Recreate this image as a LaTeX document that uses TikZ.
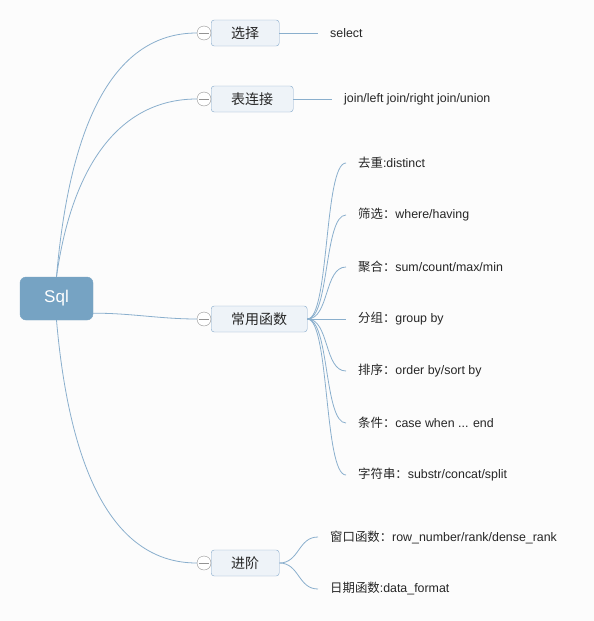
\documentclass[tikz,border=0pt]{standalone}
\usepackage{fontspec}
\setmainfont{Liberation Sans}
\newfontfamily\cjk{Noto Sans CJK SC}
\usepackage{tikz}
\usetikzlibrary{positioning,calc}
\usepackage{xcolor}
\definecolor{rootblue}{HTML}{76A3C3}
\definecolor{linkblue}{HTML}{8AAFCD}
\definecolor{topicfill}{HTML}{EEF3F8}
\definecolor{topicline}{HTML}{86AACB}
\definecolor{bgpaper}{HTML}{FCFCFC}

\begin{document}
\begin{tikzpicture}[x=1pt, y=-1pt,
        root/.style={draw=rootblue, fill=rootblue, rounded corners=6pt, minimum width=73pt,
                     minimum height=43pt, text=white, font=\fontsize{17}{20}\selectfont},
        topic/.style={draw=topicline, fill=topicfill, rounded corners=3pt, anchor=west,
                      minimum height=26pt, inner xsep=20pt, text=black!85,
                      font=\cjk\fontsize{14}{16}\selectfont},
        fold/.style={circle, draw=gray!85, fill=white, minimum size=14pt, inner sep=0pt,
                     path picture={\draw[gray!85] ([xshift=-5pt]path picture bounding box.center)
                                   -- ([xshift=5pt]path picture bounding box.center);}},
        leaf/.style={anchor=west, inner xsep=12pt, inner ysep=2pt, text=black!85,
                     font=\fontsize{12.4}{14}\selectfont},
        link/.style={linkblue, line width=0.8pt}
    ]
    \fill[bgpaper] (0,0) rectangle (594,621);
    \useasboundingbox (0,0) rectangle (594,621);

    % ---- Centro ----
    \node[root] (sql) at (56.5, 298.5) {Sql};

    % ---- Topicos ----
    \node[topic] (sel) at (211, 33) {选择};
    \node[topic] (join) at (211, 99) {表连接};
    \node[topic] (func) at (211, 319) {常用函数};
    \node[topic] (adv) at (211, 563) {进阶};

    \node[fold] (c1) at (204, 33) {};
    \node[fold] (c2) at (204, 99) {};
    \node[fold] (c3) at (204, 319) {};
    \node[fold] (c4) at (204, 563) {};

    % Ramos do centro
    \draw[link] (sql.north) .. controls (70,120) and (115,33) .. (c1.west);
    \draw[link] (sql.north) .. controls (72,165) and (120,99) .. (c2.west);
    \draw[link] ($(sql.south east)+(0,-7)$) .. controls (130,313) and (160,319) .. (c3.west);
    \draw[link] (sql.south) .. controls (70,475) and (115,563) .. (c4.west);

    % ---- Folhas ----
    \node[leaf] (l-sel) at (318, 33) {select};
    \node[leaf] (l-join) at (332, 99) {join/left join/right join/union};

    \node[leaf] (f1) at (346, 163) {{\cjk 去重}:distinct};
    \node[leaf] (f2) at (346, 215) {{\cjk 筛选：}where/having};
    \node[leaf] (f3) at (346, 267) {{\cjk 聚合：}sum/count/max/min};
    \node[leaf] (f4) at (346, 319) {{\cjk 分组：}group by};
    \node[leaf] (f5) at (346, 371) {{\cjk 排序：}order by/sort by};
    \node[leaf] (f6) at (346, 423) {{\cjk 条件：}case when ... end};
    \node[leaf] (f7) at (346, 475) {{\cjk 字符串：}substr/concat/split};

    \node[leaf] (a1) at (318, 537) {{\cjk 窗口函数：}row\_number/rank/dense\_rank};
    \node[leaf] (a2) at (318, 589) {{\cjk 日期函数}:data\_format};

    % Ligacoes para as folhas
    \draw[link] (sel.east) -- (l-sel.west);
    \draw[link] (join.east) -- (l-join.west);

    \draw[link] (func.east) .. controls +(22,0) and +(-22,0) .. (f1.west);
    \draw[link] (func.east) .. controls +(22,0) and +(-22,0) .. (f2.west);
    \draw[link] (func.east) .. controls +(22,0) and +(-22,0) .. (f3.west);
    \draw[link] (func.east) -- (f4.west);
    \draw[link] (func.east) .. controls +(22,0) and +(-22,0) .. (f5.west);
    \draw[link] (func.east) .. controls +(22,0) and +(-22,0) .. (f6.west);
    \draw[link] (func.east) .. controls +(22,0) and +(-22,0) .. (f7.west);

    \draw[link] (adv.east) .. controls +(20,0) and +(-20,0) .. (a1.west);
    \draw[link] (adv.east) .. controls +(20,0) and +(-20,0) .. (a2.west);

\end{tikzpicture}
\end{document}
